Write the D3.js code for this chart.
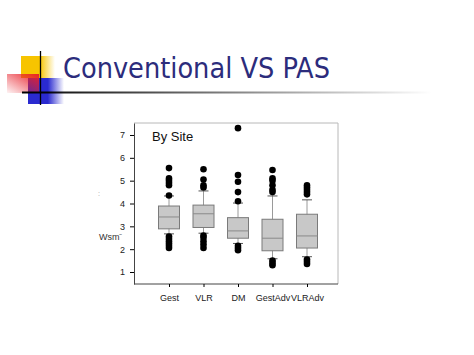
<!DOCTYPE html>
<html>
<head>
<meta charset="utf-8">
<script src="https://cdn.jsdelivr.net/npm/d3@7"></script>
<style>
  body { margin: 0; background: #fff; }
  svg { display: block; }
</style>
</head>
<body>
<svg id="chart" width="474" height="355"></svg>
<script>
// box plot summaries
const sites = ["Gest", "VLR", "DM", "GestAdv", "VLRAdv"];
const q1 = [2.89, 2.95, 2.48, 1.93, 2.05];
const medians = [3.41, 3.55, 2.80, 2.48, 2.58];
const q3 = [3.89, 3.93, 3.38, 3.31, 3.53];
const whiskerLow = [2.67, 2.70, 2.25, 1.58, 1.67];
const whiskerHigh = [4.33, 4.55, 4.02, 4.33, 4.16];
const outliers = [
  [5.55, 5.1, 5.0, 4.9, 4.8, 4.35, 2.55, 2.45, 2.35, 2.25, 2.15, 2.05],
  [5.5, 5.05, 4.8, 4.7, 2.6, 2.5, 2.35, 2.2, 2.05],
  [7.3, 5.25, 4.95, 4.5, 4.1, 2.15, 2.05, 1.95],
  [5.47, 5.1, 5.0, 4.8, 4.6, 4.5, 1.5, 1.4, 1.3],
  [4.8, 4.7, 4.6, 4.5, 4.4, 1.55, 1.45, 1.35]
];
const yTicks = [1, 2, 3, 4, 5, 6, 7];

const data = sites.map((s, i) => ({
  site: s, q1: q1[i], med: medians[i], q3: q3[i],
  lo: whiskerLow[i], hi: whiskerHigh[i], out: outliers[i]
}));

const svg = d3.select("#chart");

// --- slide decoration ---
const defs = svg.append("defs");
const grad = (id, x2, y2, c) => {
  const g = defs.append("linearGradient").attr("id", id)
    .attr("x1", 0).attr("y1", 0).attr("x2", x2).attr("y2", y2);
  g.append("stop").attr("offset", "0%").attr("stop-color", c).attr("stop-opacity", 1);
  g.append("stop").attr("offset", "55%").attr("stop-color", c).attr("stop-opacity", 1);
  g.append("stop").attr("offset", "100%").attr("stop-color", c).attr("stop-opacity", 0);
};
grad("gYel", 1, 0, "#f7c400");
grad("gBlue", 1, 0, "#2a2ad0");
const red = defs.append("linearGradient").attr("id", "gRed")
  .attr("x1", 1).attr("y1", 0).attr("x2", 0).attr("y2", 1);
red.append("stop").attr("offset", "0%").attr("stop-color", "#e8202a");
red.append("stop").attr("offset", "100%").attr("stop-color", "#e8202a").attr("stop-opacity", 0.05);
const line = defs.append("linearGradient").attr("id", "gLine");
line.append("stop").attr("offset", "0%").attr("stop-color", "#000");
line.append("stop").attr("offset", "100%").attr("stop-color", "#000").attr("stop-opacity", 0);

svg.append("rect").attr("x", 21).attr("y", 56).attr("width", 34).attr("height", 22).attr("fill", "url(#gYel)");
svg.append("rect").attr("x", 28).attr("y", 78).attr("width", 36).attr("height", 26).attr("fill", "url(#gBlue)");
svg.append("rect").attr("x", 7).attr("y", 74).attr("width", 32).attr("height", 19).attr("fill", "url(#gRed)");
svg.append("rect").attr("x", 22).attr("y", 91.5).attr("width", 410).attr("height", 2).attr("fill", "url(#gLine)");
svg.append("line").attr("x1", 40.5).attr("x2", 40.5).attr("y1", 51).attr("y2", 105)
  .attr("stroke", "#000").attr("stroke-width", 1.3);

svg.append("text").attr("x", 63).attr("y", 78)
  .attr("font-family", "DejaVu Sans Condensed, DejaVu Sans, sans-serif")
  .attr("font-size", 29).attr("fill", "#2c2c7c")
  .attr("textLength", 267).attr("lengthAdjust", "spacingAndGlyphs")
  .text("Conventional VS PAS");

// --- chart ---
const frame = { left: 134, right: 338, top: 123, bottom: 284 };
const y = d3.scaleLinear().domain([0.475, 7.525]).range([frame.bottom, frame.top]);
const x = d3.scalePoint().domain(sites).range([169, 307]);
const boxW = 21, capW = 10;

// light frame top/right
svg.append("path")
  .attr("d", `M${frame.left},${frame.top}H${frame.right}V${frame.bottom}`)
  .attr("fill", "none").attr("stroke", "#b8b8b8").attr("stroke-width", 1);

const g = svg.append("g");
const box = g.selectAll("g.box").data(data).join("g").attr("class", "box");

box.append("line")
  .attr("x1", d => x(d.site)).attr("x2", d => x(d.site))
  .attr("y1", d => y(d.hi)).attr("y2", d => y(d.lo))
  .attr("stroke", "#9a9a9a").attr("stroke-width", 1);
box.selectAll("line.cap").data(d => [d.lo, d.hi].map(v => ({ site: d.site, v })))
  .join("line").attr("class", "cap")
  .attr("x1", d => x(d.site) - capW / 2).attr("x2", d => x(d.site) + capW / 2)
  .attr("y1", d => y(d.v)).attr("y2", d => y(d.v))
  .attr("stroke", "#555").attr("stroke-width", 1);
box.append("rect")
  .attr("x", d => x(d.site) - boxW / 2).attr("width", boxW)
  .attr("y", d => y(d.q3)).attr("height", d => y(d.q1) - y(d.q3))
  .attr("fill", "#c8c8c8").attr("stroke", "#7a7a7a").attr("stroke-width", 1);
box.append("line")
  .attr("x1", d => x(d.site) - boxW / 2).attr("x2", d => x(d.site) + boxW / 2)
  .attr("y1", d => y(d.med)).attr("y2", d => y(d.med))
  .attr("stroke", "#8a8a8a").attr("stroke-width", 1);
box.selectAll("circle").data(d => d.out.map(v => ({ site: d.site, v })))
  .join("circle")
  .attr("cx", d => x(d.site)).attr("cy", d => y(d.v)).attr("r", 3.3)
  .attr("fill", "#000");

// axes
const yAxis = svg.append("g").attr("transform", `translate(${frame.left},0)`)
  .call(d3.axisLeft(y).tickValues(yTicks).tickFormat(d3.format("d"))
    .tickSize(4).tickSizeOuter(0).tickPadding(5));
yAxis.select(".domain").attr("stroke", "#444");
yAxis.selectAll("text").attr("font-family", "Liberation Sans, Arial, sans-serif")
  .attr("font-size", 9).attr("fill", "#222");

const xAxis = svg.append("g").attr("transform", `translate(0,${frame.bottom})`)
  .call(d3.axisBottom(x).tickSize(3).tickSizeOuter(0).tickPadding(8));
xAxis.select(".domain").attr("d", `M${frame.left},0H${frame.right}`).attr("stroke", "#444");
xAxis.selectAll("text").attr("font-family", "Liberation Sans, Arial, sans-serif")
  .attr("font-size", 9).attr("fill", "#222");

svg.append("text").attr("x", 152).attr("y", 141)
  .attr("font-family", "Liberation Sans, Arial, sans-serif")
  .attr("font-size", 13).attr("fill", "#111").text("By Site");

// garbled unit label as it appears
svg.append("text").attr("x", 99).attr("y", 240)
  .attr("font-family", "Liberation Sans, Arial, sans-serif")
  .attr("font-size", 9).attr("fill", "#333").text("Wsm⁻");
svg.append("text").attr("x", 98).attr("y", 196)
  .attr("font-family", "Liberation Sans, Arial, sans-serif")
  .attr("font-size", 7).attr("fill", "#999").text(":");
</script>
</body>
</html>
